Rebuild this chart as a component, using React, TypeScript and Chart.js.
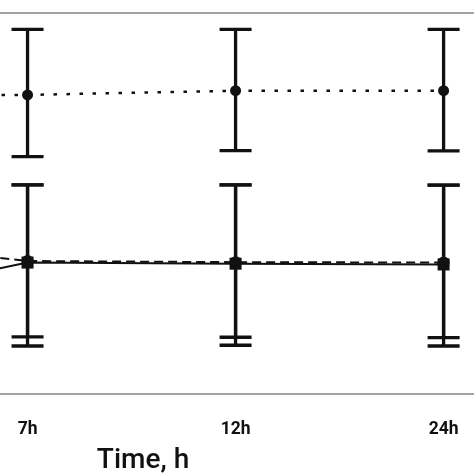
import { useEffect, useRef } from 'react'
import { Chart, registerables } from 'chart.js'

Chart.register(...registerables)

// first time point sits left of the visible crop
const timeLabels = ['3h', '7h', '12h', '24h']

// upper group (dotted line, round markers)
const topMean = [78.3, 78.5, 79.6, 79.6]
const topHigh = [95.7, 95.7, 95.7, 95.7]
const topLow = [62.3, 62.3, 63.9, 63.8]

// lower group, solid line (square markers)
const solidMean = [23.1, 34.5, 34.2, 34.0]
const solidHigh = [45.0, 54.9, 54.9, 54.8]
const solidLow = [5.0, 12.6, 12.8, 12.6]

// lower group, dashed line (round markers)
const dashMean = [41.2, 34.9, 34.6, 34.5]
const dashHigh = [60.0, 54.9, 54.9, 54.8]
const dashLow = [20.0, 15.0, 14.9, 14.8]

const INK = '#111'
const FONT = "Roboto, 'DejaVu Sans Condensed', sans-serif"

const toPoints = (vals: number[]) => vals.map((y, i) => ({ x: i, y }))

const errorBars = {
  id: 'errorBars',
  beforeDatasetsDraw(chart: any) {
    const { ctx } = chart
    const yScale = chart.scales.y
    chart.data.datasets.forEach((ds: any, di: number) => {
      if (!ds.errLow) return
      const meta = chart.getDatasetMeta(di)
      ctx.save()
      ctx.strokeStyle = INK
      ctx.lineWidth = 3.3
      ctx.lineCap = 'butt'
      meta.data.forEach((pt: any, i: number) => {
        const x = pt.x
        const yHi = yScale.getPixelForValue(ds.errHigh[i])
        const yLo = yScale.getPixelForValue(ds.errLow[i])
        ctx.beginPath()
        ctx.moveTo(x, yHi)
        ctx.lineTo(x, yLo)
        ctx.moveTo(x - 16, yHi)
        ctx.lineTo(x + 16, yHi)
        ctx.moveTo(x - 16, yLo)
        ctx.lineTo(x + 16, yLo)
        ctx.stroke()
      })
      ctx.restore()
    })
  },
  afterDraw(chart: any) {
    const { ctx, chartArea: a } = chart
    ctx.save()
    ctx.strokeStyle = '#666'
    ctx.lineWidth = 1.2
    ctx.strokeRect(a.left, a.top, a.right - a.left, a.bottom - a.top)
    ctx.restore()
  },
}

export default function App() {
  const canvasRef = useRef<HTMLCanvasElement>(null)
  const chartRef = useRef<Chart | null>(null)

  useEffect(() => {
    if (!canvasRef.current) return
    if (chartRef.current) chartRef.current.destroy()

    chartRef.current = new Chart(canvasRef.current, {
      type: 'line',
      data: {
        datasets: [
          {
            label: 'dashed',
            data: toPoints(dashMean),
            errHigh: dashHigh,
            errLow: dashLow,
            borderColor: INK,
            borderWidth: 2,
            borderDash: [9, 5],
            pointStyle: 'circle',
            pointRadius: 6,
            pointBackgroundColor: INK,
            pointBorderWidth: 0,
          } as any,
          {
            label: 'solid',
            data: toPoints(solidMean),
            errHigh: solidHigh,
            errLow: solidLow,
            borderColor: INK,
            borderWidth: 2,
            pointStyle: 'rect',
            pointRadius: 8.5,
            pointBackgroundColor: INK,
            pointBorderWidth: 0,
          } as any,
          {
            label: 'dotted',
            data: toPoints(topMean),
            errHigh: topHigh,
            errLow: topLow,
            borderColor: INK,
            borderWidth: 2.5,
            borderDash: [3.5, 9.5],
            pointStyle: 'circle',
            pointRadius: 5.5,
            pointBackgroundColor: INK,
            pointBorderWidth: 0,
          } as any,
        ],
      },
      options: {
        animation: false,
        responsive: true,
        maintainAspectRatio: false,
        layout: { autoPadding: false, padding: { top: 13, left: 0, right: 0, bottom: 0 } },
        plugins: {
          legend: { display: false },
          tooltip: { enabled: false },
        },
        scales: {
          x: {
            type: 'linear',
            min: -0.19,
            max: 3.3,
            afterBuildTicks: (scale: any) => {
              scale.ticks = timeLabels.map((_, i) => ({ value: i }))
            },
            grid: { display: false, drawTicks: false },
            border: { display: false },
            ticks: {
              padding: 25.5,
              color: INK,
              maxRotation: 0,
              font: { size: 17.5, weight: 'bold', family: FONT, lineHeight: 1.2 },
              callback: (v: any) => timeLabels[v] ?? '',
            },
            title: {
              display: true,
              text: 'Time, h',
              color: INK,
              padding: { top: -19, bottom: -1 },
              font: { size: 28, weight: 500, family: FONT, lineHeight: 1 },
            },
          },
          y: {
            display: false,
            min: 0,
            max: 100,
          },
        },
      },
      plugins: [errorBars],
    })
    return () => { chartRef.current?.destroy() }
  }, [])

  return (
    <div style={{ position: 'fixed', left: 0, top: 0, width: 474, height: 474, overflow: 'hidden', background: '#fff' }}>
      <div style={{ position: 'absolute', left: -220, top: 0, width: 726, height: 474 }}>
        <canvas ref={canvasRef} />
      </div>
    </div>
  )
}
